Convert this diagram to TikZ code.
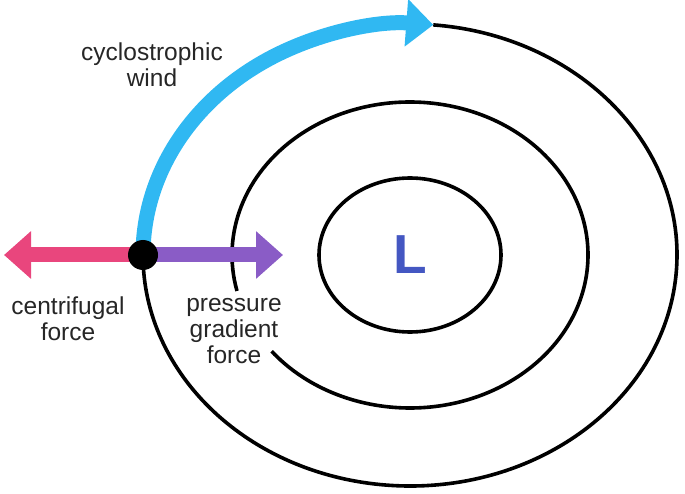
\documentclass[tikz,border=0pt]{standalone}
\usepackage{fontspec}
\setmainfont{Liberation Sans}
\usetikzlibrary{arrows.meta}
\definecolor{windblue}{HTML}{30B8F2}
\definecolor{centpink}{HTML}{E9467D}
\definecolor{pressviolet}{HTML}{8A5CC6}
\definecolor{lowblue}{HTML}{4457C2}
\begin{document}
\begin{tikzpicture}[x=1pt, y=1pt,
  isobar/.style={line width=3.6pt},
  force/.style={line width=15pt, -{Triangle[length=27pt,width=46pt]}},
  every node/.style={font=\fontsize{24.5}{26}\selectfont, align=center, inner sep=0pt, text=black!85}]
  \useasboundingbox (0,0) rectangle (685,493);
  \coordinate (c) at (410,238);
  \coordinate (parcel) at ([shift={(180:267 and 231)}]c);
  \coordinate (cf) at (4,238);
  \coordinate (pg) at (283,238);
  % isobars
  \draw [isobar] (c) ellipse [x radius=91, y radius=77];
  \draw [isobar] ([shift={(219:178 and 153)}]c) arc [start angle=219, end angle=553.6, x radius=178, y radius=153];
  \draw [isobar] ([shift={(85:267 and 231)}]c) arc [start angle=85, end angle=-180, x radius=267, y radius=231];
  % forces
  \draw [force, windblue] (parcel) arc [start angle=180, end angle=85, x radius=267, y radius=231];
  \draw [force, centpink] (parcel) -- (cf);
  \draw [force, pressviolet] (parcel) -- (pg);
  \node [circle, fill=black, minimum size=30pt] (dot) at (parcel) {};
  \node [text=lowblue, font=\fontsize{55}{55}\selectfont\bfseries] (low) at (c) {L};
  % labels
  \node (windlabel) at (152,428) {cyclostrophic\\wind};
  \node (cflabel) at (68,174) {centrifugal\\force};
  \node (pglabel) at (234,162) {pressure\\gradient\\force};
\end{tikzpicture}
\end{document}
